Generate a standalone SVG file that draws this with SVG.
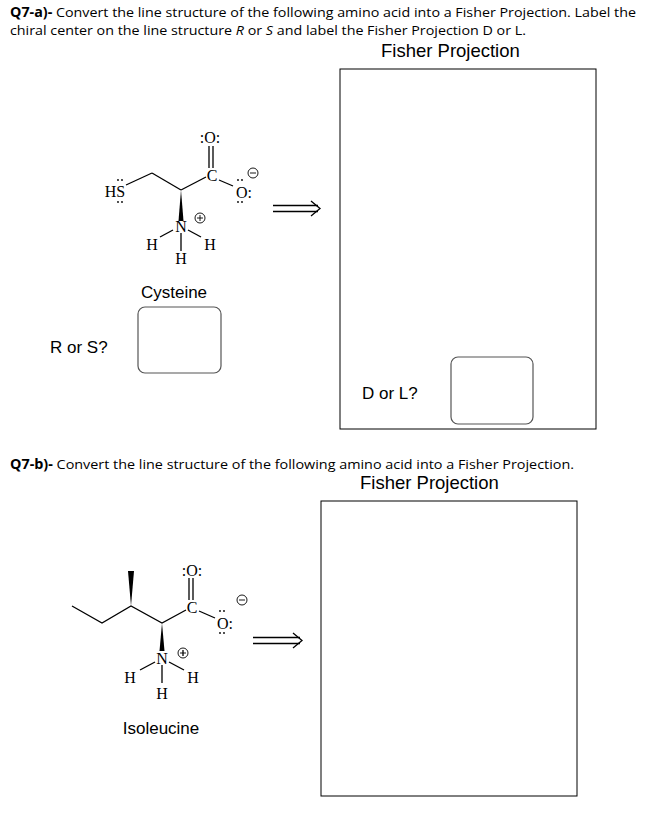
<svg xmlns="http://www.w3.org/2000/svg" width="663" height="823" viewBox="0 0 663 823">
<style>
.h{font-family:"Open Sans","Liberation Sans",sans-serif;font-size:13.5px;fill:#000}
.a{font-family:"Liberation Sans",Arial,sans-serif;fill:#000}
.c{font-family:"Liberation Serif","Times New Roman",serif;font-size:16px;fill:#000;text-anchor:middle}
.b{stroke:#000;stroke-width:1.3;fill:none}
.box{fill:#fff;stroke:#000;stroke-width:1}
.rb{fill:#fff;stroke:#555;stroke-width:1.2}
.p{fill:#000}
</style>
<rect width="663" height="823" fill="#fff"/>
<text class="h" x="10" y="17" textLength="626" lengthAdjust="spacingAndGlyphs"><tspan font-weight="bold">Q7-a)-</tspan> Convert the line structure of the following amino acid into a Fisher Projection. Label the</text>
<text class="h" x="10" y="35" textLength="516" lengthAdjust="spacingAndGlyphs">chiral center on the line structure <tspan font-style="italic">R</tspan> or <tspan font-style="italic">S</tspan> and label the Fisher Projection D or L.</text>
<text class="a" x="381" y="57" font-size="18.5">Fisher Projection</text>
<g id="fisher-a"><rect class="box" x="340" y="69" width="256" height="360"/></g>
<g id="cysteine">
<g class="b">
<line x1="126" y1="185" x2="152" y2="173"/><line x1="152" y1="173" x2="181" y2="190"/><line x1="181" y1="190" x2="206" y2="177"/>
<line x1="209" y1="146" x2="209" y2="168"/><line x1="213" y1="146" x2="213" y2="168"/>
<line x1="219" y1="180" x2="233" y2="186"/>
<line x1="173" y1="230" x2="160" y2="237"/><line x1="188" y1="230" x2="201" y2="237"/><line x1="181" y1="233" x2="181" y2="251"/>
<circle cx="253" cy="173" r="5" stroke-width="0.9"/><line x1="250" y1="173" x2="256" y2="173" stroke-width="0.9"/>
<circle cx="200" cy="218" r="5" stroke-width="0.9"/><line x1="197" y1="218" x2="203" y2="218" stroke-width="0.9"/><line x1="200" y1="215" x2="200" y2="221" stroke-width="0.9"/>
</g>
<polygon points="181,190 178.5,221 183.5,221" fill="#000"/>
<g class="p"><circle cx="118" cy="180" r="0.9"/><circle cx="122" cy="180" r="0.9"/><circle cx="118" cy="202" r="0.9"/><circle cx="122" cy="202" r="0.9"/>
<circle cx="238" cy="180" r="0.9"/><circle cx="242" cy="180" r="0.9"/><circle cx="238" cy="202" r="0.9"/><circle cx="242" cy="202" r="0.9"/></g>
<text class="c" x="115" y="197">HS</text>
<text class="c" x="212" y="181">C</text>
<text class="c" x="210" y="143">:O:</text>
<text class="c" x="244" y="198">O:</text>
<text class="c" x="181" y="232">N</text>
<text class="c" x="152" y="250">H</text><text class="c" x="210" y="250">H</text><text class="c" x="181" y="264">H</text>
</g>
<g id="arrow-a" class="b" stroke-width="1"><line x1="273" y1="205.5" x2="318" y2="205.5"/><line x1="273" y1="211.5" x2="318" y2="211.5"/><polyline points="311,201 320,208.5 311,216"/></g>
<text class="a" x="174" y="298" font-size="17" text-anchor="middle">Cysteine</text>
<text class="a" x="50" y="353" font-size="17">R or S?</text>
<g id="rs-box"><rect class="rb" x="138" y="307" width="83" height="66" rx="7"/></g>
<text class="a" x="362" y="399" font-size="17">D or L?</text>
<g id="dl-box"><rect class="rb" x="451" y="357" width="82" height="67" rx="7"/></g>
<text class="h" x="10" y="469" textLength="564" lengthAdjust="spacingAndGlyphs"><tspan font-weight="bold">Q7-b)-</tspan> Convert the line structure of the following amino acid into a Fisher Projection.</text>
<text class="a" x="360" y="489" font-size="18.5">Fisher Projection</text>
<g id="fisher-b"><rect class="box" x="321" y="501" width="256" height="295"/></g>
<g id="isoleucine">
<g class="b">
<polyline points="72,606 102,623 131,606 162,623 186,610"/>
<line x1="189" y1="578" x2="189" y2="600"/><line x1="193" y1="578" x2="193" y2="600"/>
<line x1="199" y1="611" x2="215" y2="618"/>
<line x1="155" y1="662" x2="140" y2="670"/><line x1="169" y1="662" x2="184" y2="670"/><line x1="162" y1="665" x2="162" y2="683"/>
<circle cx="242" cy="600" r="5" stroke-width="0.9"/><line x1="239" y1="600" x2="245" y2="600" stroke-width="0.9"/>
<circle cx="183" cy="653" r="5" stroke-width="0.9"/><line x1="180" y1="653" x2="186" y2="653" stroke-width="0.9"/><line x1="183" y1="650" x2="183" y2="656"/>
</g>
<polygon points="131,606 128,571 134,571" fill="#000"/>
<polygon points="162,623 159.5,651 164.5,651" fill="#000"/>
<g class="p"><circle cx="220" cy="611" r="0.9"/><circle cx="224" cy="611" r="0.9"/><circle cx="220" cy="633" r="0.9"/><circle cx="224" cy="633" r="0.9"/></g>
<text class="c" x="192" y="613">C</text>
<text class="c" x="192" y="576">:O:</text>
<text class="c" x="225" y="629">O:</text>
<text class="c" x="162" y="664">N</text>
<text class="c" x="130" y="683">H</text><text class="c" x="193" y="683">H</text><text class="c" x="162" y="699">H</text>
</g>
<g id="arrow-b" class="b" stroke-width="1"><line x1="253" y1="637.5" x2="300" y2="637.5"/><line x1="253" y1="643.5" x2="300" y2="643.5"/><polyline points="293,633 302,640.5 293,648"/></g>
<text class="a" x="161" y="734" font-size="17" text-anchor="middle">Isoleucine</text>
</svg>
